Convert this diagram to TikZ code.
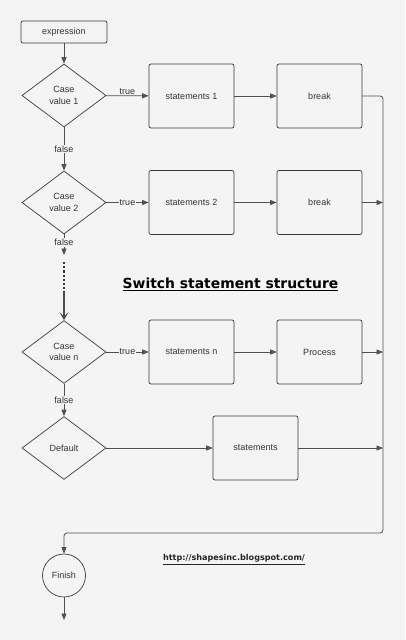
\documentclass[tikz,border=0pt]{standalone}
\usepackage{fontspec}
\setmainfont{Liberation Sans}
\newfontfamily\titlefont{DejaVu Sans}
\usetikzlibrary{shapes.geometric,arrows.meta,backgrounds}
\definecolor{bg}{HTML}{F4F4F4}
\definecolor{ln}{HTML}{3A3A3A}
\definecolor{cn}{HTML}{505050}
\definecolor{tx}{HTML}{333333}
\tikzset{
 box/.style={draw=ln, fill=bg, rounded corners=2pt, minimum width=85pt, minimum height=64pt, inner sep=0pt, font=\fontsize{9}{11.5}\selectfont, text=tx, line width=0.7pt},
 dia/.style={draw=ln, fill=bg, diamond, minimum width=84pt, minimum height=63pt, inner sep=0pt, align=center, font=\fontsize{9}{11.5}\selectfont, text=tx, line width=0.7pt},
 conn/.style={draw=cn, line width=0.8pt, -{Triangle[length=6.5pt,width=5pt]}},
 lbl/.style={fill=bg, inner sep=1pt, font=\fontsize{9}{10}\selectfont, text=tx},
 heading/.style={font=\titlefont\bfseries\fontsize{13.9}{15}\selectfont, text=black, inner sep=1pt},
 urltext/.style={font=\titlefont\bfseries\fontsize{8.1}{9}\selectfont, text=black!85, inner sep=1pt},
 haze/.style={fill=black, opacity=0.11, rounded corners=3pt},
}
\begin{document}
\begin{tikzpicture}[x=1pt,y=-1pt]
\fill[bg] (0,0) rectangle (405,640);
\useasboundingbox (0,0) rectangle (405,640);
% nodes
\node[box, minimum width=86pt, minimum height=22pt] (expr) at (64,32) {expression};
\node[dia] (c1) at (64,95.5) {Case\\value 1};
\node[box] (s1) at (191.5,96) {statements 1};
\node[box] (b1) at (319.5,96) {break};
\node[dia] (c2) at (64,202.5) {Case\\value 2};
\node[box] (s2) at (191.5,202.5) {statements 2};
\node[box] (b2) at (319.5,202.5) {break};
\node[dia] (cn) at (64,352) {Case\\value n};
\node[box] (sn) at (191.5,352) {statements n};
\node[box] (pn) at (319.5,352) {Process};
\node[dia] (def) at (64,448) {Default};
\node[box] (st) at (255.5,448) {statements};
\node[draw=ln, fill=bg, circle, minimum size=43pt, inner sep=0pt, line width=0.7pt, font=\fontsize{9}{11}\selectfont, text=tx] (fin) at (64,575.5) {Finish};
% titles
\node[heading] (title) at (230.5,284) {\underline{Switch statement structure}};
\node[urltext] (url) at (234,559.5) {\underline{http://shapesinc.blogspot.com/}};
\begin{pgfonlayer}{background}
\foreach \d in {0,1,2} {
  \fill[haze] ([xshift=1.5pt-\d pt, yshift=-2.5pt-\d pt]title.north west) rectangle ([xshift=2.5pt+\d pt, yshift=-2.5pt+\d pt]title.south east);
  \fill[haze] ([xshift=1pt-\d pt, yshift=-2pt-0.6*\d pt]url.north west) rectangle ([xshift=2pt+\d pt, yshift=-2pt+0.6*\d pt]url.south east);
}
\end{pgfonlayer}
% coordinates
\coordinate (r1) at (383,96);
\coordinate (r2) at (383,202.5);
\coordinate (rn) at (383,352);
\coordinate (rd) at (383,448);
\coordinate (rb) at (383,533);
\coordinate (lb) at (64,533);
\coordinate (endpt) at (64,620);
\coordinate (d1) at (64,255);
\coordinate (d2) at (64,262);
\coordinate (d3) at (64,292);
% connectors
\draw[conn] (expr) -- (c1);
\draw[conn] (c1) -- node[lbl, pos=0.5]{false} (c2);
\draw[conn] (c1) -- node[above, inner sep=1pt, font=\fontsize{9}{10}\selectfont, text=tx]{true} (s1);
\draw[conn] (c2) -- node[lbl]{true} (s2);
\draw[conn] (cn) -- node[lbl]{true} (sn);
\draw[conn] (s1) -- (b1);
\draw[conn] (s2) -- (b2);
\draw[conn] (sn) -- (pn);
\draw[conn] (b2) -- (r2);
\draw[conn] (pn) -- (rn);
\draw[conn] (def) -- (st);
\draw[conn] (st) -- (rd);
\draw[conn, rounded corners=3pt] (b1.east) -- (r1) -- (rb) -- (lb) -- (fin);
\draw[conn] (fin) -- (endpt);
\draw[conn] (c2) -- node[lbl, pos=0.38]{false} (d1);
\draw[line width=2.2pt, dotted, black!80] (d2) -- (d3);
\draw[line width=1.8pt, draw=black!70, -{Stealth[length=8pt,width=9pt,inset=4pt]}] (d3) -- (cn);
\draw[conn] (cn) -- node[lbl]{false} (def);
\end{tikzpicture}
\end{document}
